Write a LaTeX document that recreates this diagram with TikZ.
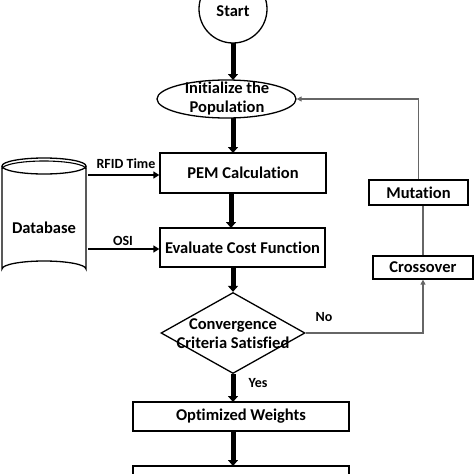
\documentclass[tikz,border=0pt]{standalone}
\usepackage{fontspec}
\setmainfont[Ligatures=NoCommon]{Carlito}
\usetikzlibrary{shapes.geometric,arrows.meta}
\begin{document}
\begin{tikzpicture}[x=1pt,y=-1pt,
  font=\bfseries\fontsize{16.5}{19}\selectfont,
  box/.style={draw, line width=1.3pt, rectangle, inner sep=0pt, align=center},
  thick arrow/.style={line width=5pt, -{Triangle[width=10pt,length=6pt]}},
  feed/.style={draw=black!60, line width=1.2pt},
  feedarrow/.style={feed, -{Triangle[width=5pt,length=5pt]}},
  side arrow/.style={line width=2.6pt, -{Triangle[width=7pt,length=6pt]}},
  lbl/.style={font=\bfseries\fontsize{14}{16}\selectfont, inner sep=0pt}]
\useasboundingbox (0,0) rectangle (474,474);

% nodes
\node[draw, circle, line width=1.3pt, minimum size=68pt, inner sep=0pt] (start) at (233,9) {};
\node at (233,11) {Start};
\node[draw, ellipse, line width=1.3pt, minimum width=139pt, minimum height=38pt, inner sep=0pt] (init) at (226.5,99) {};
\node[align=center] at (227,99) {Initialize the\\Population};
\node[box, minimum width=166pt, minimum height=40pt] (pem) at (243,173) {PEM Calculation};
\node[box, minimum width=165pt, minimum height=39pt] (eval) at (242.5,247.5) {Evaluate Cost Function};
\node[draw, diamond, line width=1.3pt, minimum width=144pt, minimum height=81pt, inner sep=0pt] (dia) at (233,333) {};
\node[align=center] at (233,334) {Convergence\\Criteria Satisfied};
\node[box, minimum width=216pt, minimum height=29pt] (opt) at (241,416.5) {Optimized Weights};
\node[box, minimum width=216pt, minimum height=29pt] (last) at (241,480.5) {};
\node[box, minimum width=99pt, minimum height=25pt] (mut) at (418.5,192.5) {Mutation};
\node[box, minimum width=100pt, minimum height=23pt] (cross) at (423,267.5) {Crossover};

% database cylinder
\draw[line width=1.3pt] (2,166) -- (2,269) arc (180:0:42pt and 8pt) -- (86,166);
\draw[line width=1.3pt] (44,166) ellipse (42pt and 8pt);
\draw[line width=1.1pt] (2,169) arc (180:0:42pt and 8pt);
\node (db) at (44,228) {Database};
\coordinate (dbA) at (88,175);
\coordinate (dbB) at (88,249);

% main thick arrows
\draw[thick arrow] (233,43) -- (233,80);
\draw[thick arrow] (233,118) -- (233,153);
\draw[thick arrow] (231,193) -- (231,228);
\draw[thick arrow] (233,267) -- (dia.north);
\draw[thick arrow] (dia.south) -- (233,402);
\draw[thick arrow] (233,431) -- (233,466);

% database arrows
\draw[side arrow] (dbA) -- (pem.west |- dbA);
\draw[side arrow] (dbB) -- (eval.west |- dbB);
\node[lbl] at (126,164) {RFID Time};
\node[lbl] at (123,241) {OSI};

% feedback loop
\coordinate (corner) at (423,333);
\draw[feedarrow] (dia.east) -- (corner) -- (cross.south);
\draw[feed] (cross.north) -- (cross.north |- mut.south);
\draw[feedarrow] (mut.north) |- (init.east);
\node[lbl] at (324,317) {No};
\node[lbl] at (258,383) {Yes};
\end{tikzpicture}
\end{document}
